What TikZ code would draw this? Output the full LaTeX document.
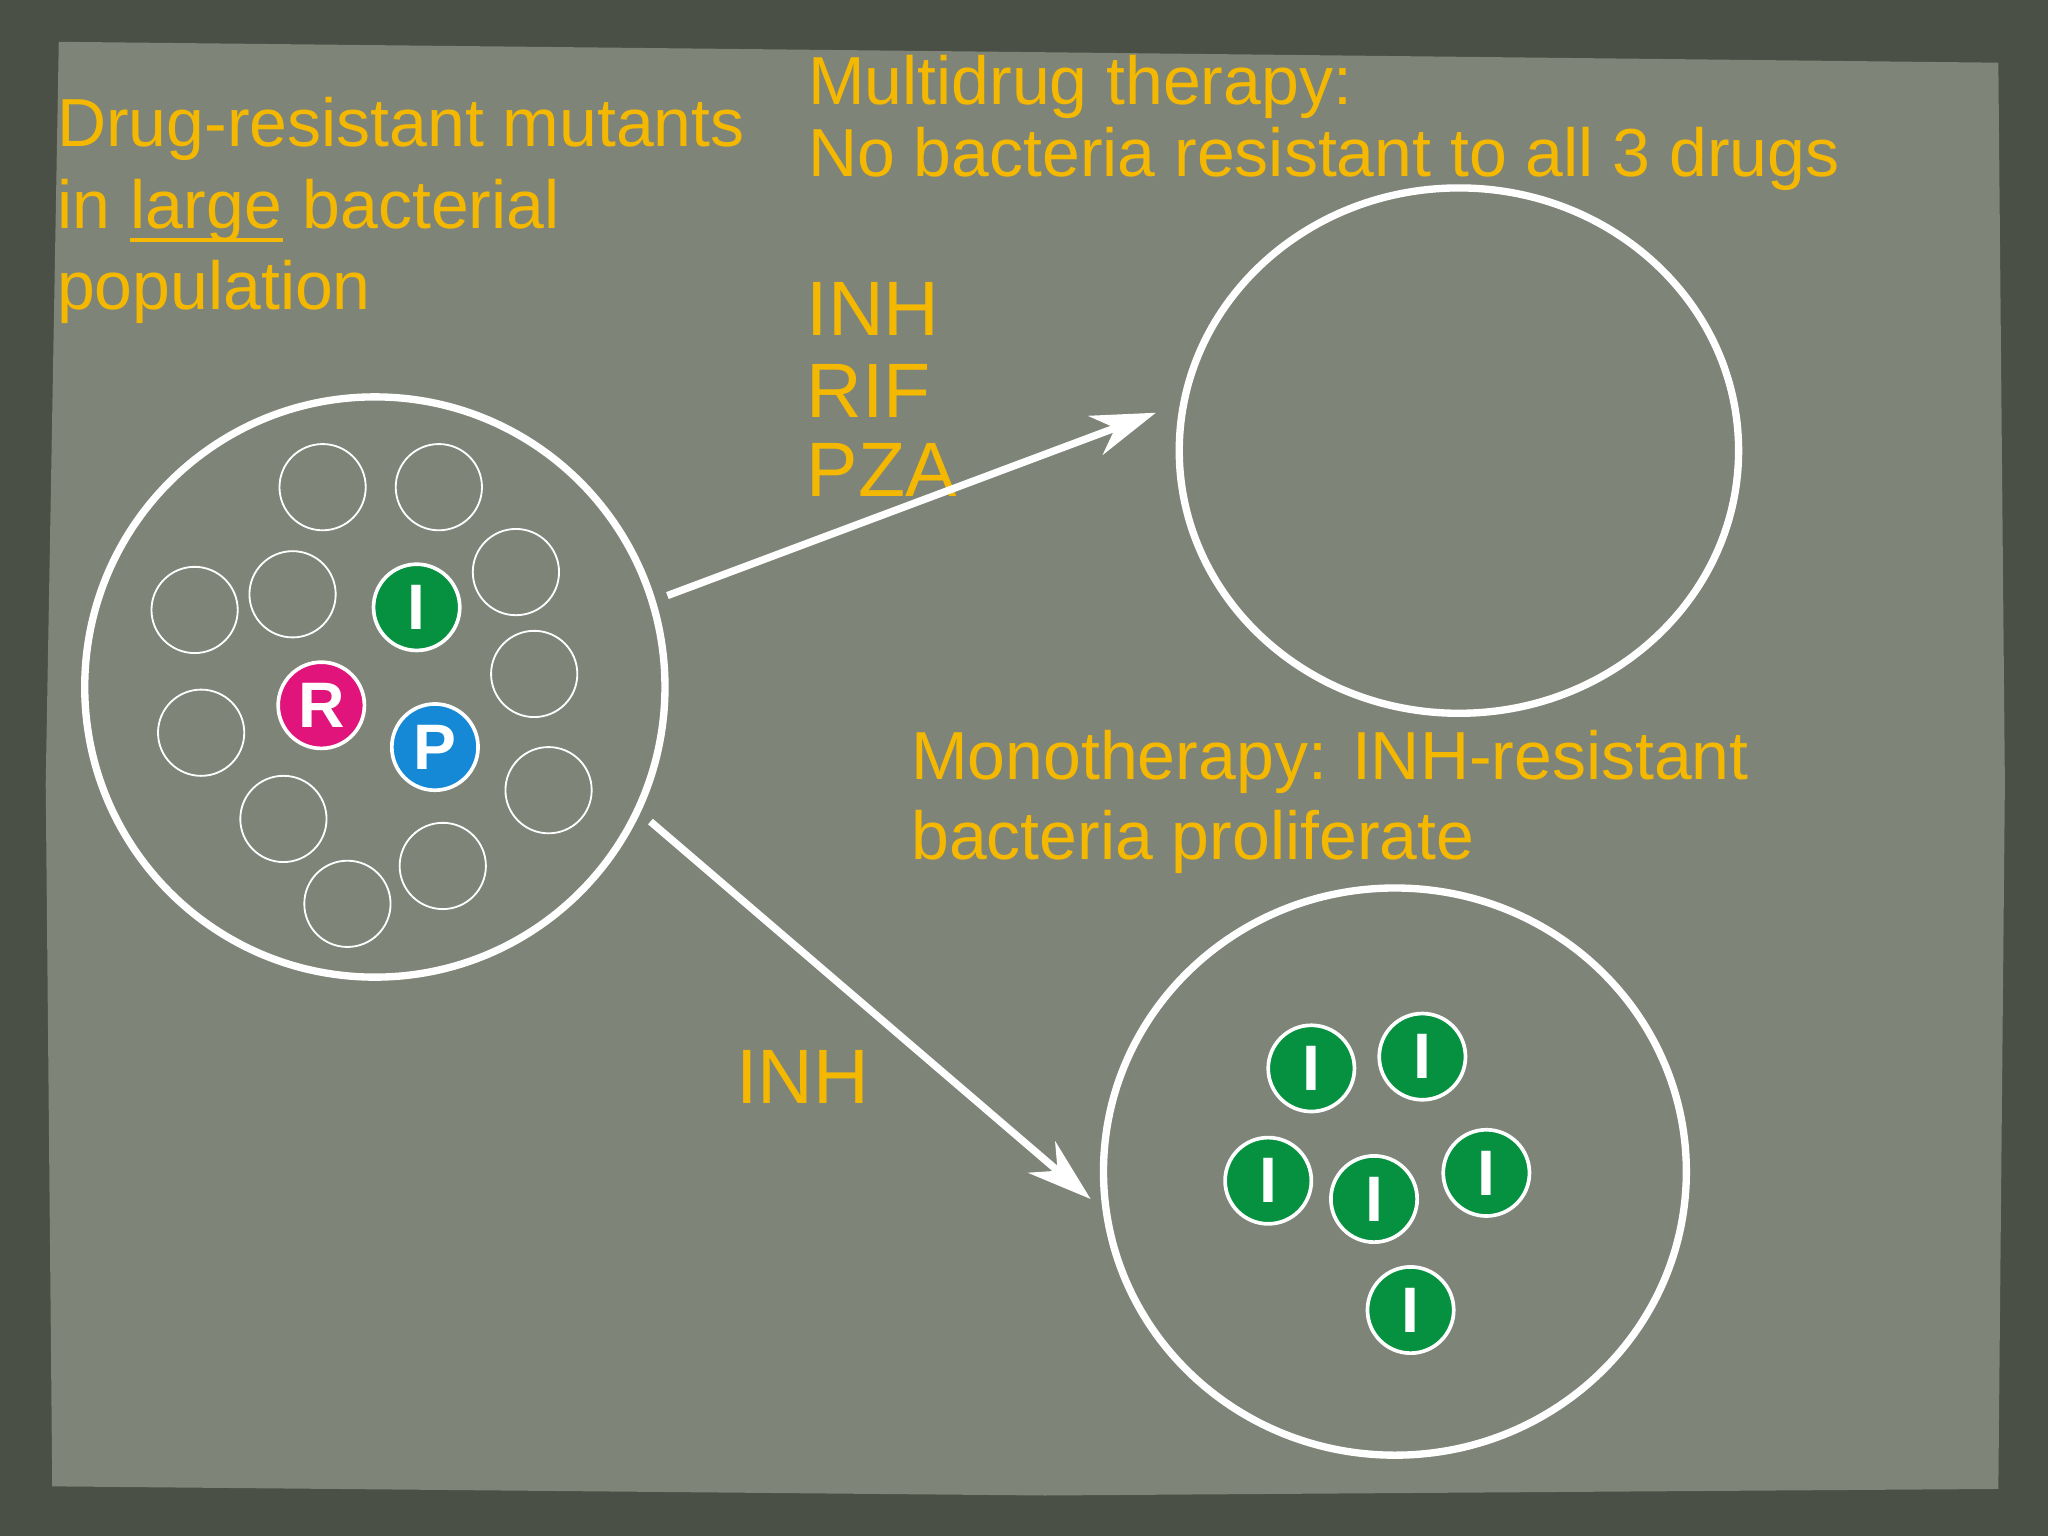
\documentclass[tikz,border=0pt]{standalone}
\usepackage{fontspec}
\setmainfont{Liberation Sans}
\usetikzlibrary{arrows.meta,shapes.geometric}
\definecolor{frame}{HTML}{4B5046}
\definecolor{paper}{HTML}{7E8478}
\definecolor{txt}{HTML}{F5B800}
\definecolor{grn}{HTML}{05913F}
\definecolor{mag}{HTML}{E0147A}
\definecolor{blu}{HTML}{1589D6}
\begin{document}
\begin{tikzpicture}[x=0.01cm,y=-0.01cm,
 lbl/.style={anchor=base west,inner sep=0,text=txt,font=\fontsize{14.8}{17}\selectfont},
 big/.style={anchor=base west,inner sep=0,text=txt,font=\fontsize{16.8}{20}\selectfont},
 pop/.style={draw=white,line width=1.6pt},
 empty/.style={circle,draw=white,line width=0.4pt,minimum size=0.66cm,inner sep=0},
 bug/.style={circle,draw=white,line width=0.8pt,minimum size=0.66cm,inner sep=0,text=white,font=\bfseries\fontsize{14}{14}\selectfont},
 arr/.style={draw=white,line width=1.6pt,-{Stealth[length=14pt,width=9pt]}}]
\useasboundingbox (0,0) rectangle (1568,1176);
\fill[frame] (0,0) rectangle (1568,1176);
\fill[paper] (45,32) -- (800,40) -- (1530,48) -- (1535,600) -- (1530,1140) -- (800,1145) -- (40,1138) -- (35,600) -- cycle;
% texts
\node[lbl] (t1) at (43,112) {Drug-resistant mutants};
\node[lbl] (t2a) at (43,175) {\mbox{in\ }};
\node[lbl] (t2b) at (t2a.base east) {large};
\node[lbl] (t2c) at (t2b.base east) {\mbox{\ bacterial}};
\draw[txt,line width=0.8pt] ([yshift=-2.5pt]t2b.base west) -- ([yshift=-2.5pt]t2b.base east);
\node[lbl] (t3) at (43,237) {population};
\node[lbl] (m1) at (618,80) {Multidrug therapy:};
\node[lbl] (m2) at (618,135) {No bacteria resistant to all 3 drugs};
\node[big] (d1) at (617,257) {INH};
\node[big] (d2) at (617,320) {RIF};
\node[big] (d3) at (617,380) {PZA};
\node[lbl] (o1) at (697,597) {Monotherapy: INH-resistant};
\node[lbl] (o2) at (697,658) {bacteria proliferate};
\node[big] (d4) at (563,845) {INH};
% populations
\node[pop,circle,minimum size=4.44cm,inner sep=0] (L) at (287,526) {};
\node[pop,ellipse,minimum width=4.28cm,minimum height=4.02cm,inner sep=0] (T) at (1117,345) {};
\node[pop,ellipse,minimum width=4.46cm,minimum height=4.34cm,inner sep=0] (B) at (1068,897) {};
\foreach \p [count=\i] in {(247,373),(336,373),(395,438),(149,467),(224,455),(409,516),(154,561),(420,605),(217,627),(339,663),(266,692)}
  \node[empty] (e\i) at \p {};
\node[bug,fill=grn] (i0) at (319,465) {I};
\node[bug,fill=mag] (r0) at (246,540) {R};
\node[bug,fill=blu] (p0) at (333,572) {P};
\foreach \p [count=\i] in {(1004,818),(1089,809),(971,904),(1052,918),(1138,898),(1080,1003)}
  \node[bug,fill=grn] (g\i) at \p {I};
\coordinate (a1) at (511,456); \coordinate (a2) at (885,316);
\coordinate (b1) at (498,629); \coordinate (b2) at (835,918);
\draw[arr] (a1) -- (a2);
\draw[arr] (b1) -- (b2);
\end{tikzpicture}
\end{document}
